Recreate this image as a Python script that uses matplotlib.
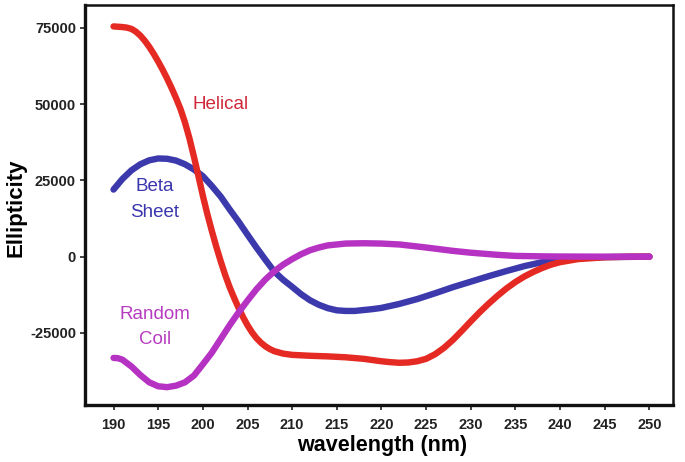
import matplotlib
matplotlib.use("Agg")
import matplotlib.pyplot as plt

helical_x = [190, 190.5, 191, 191.5, 192, 192.5, 193, 193.5, 194, 194.5, 195, 195.5, 196, 196.5, 197, 197.5, 198,
             198.5, 199, 199.5, 200, 200.5, 201, 201.5, 202, 202.5, 203, 203.5, 204, 204.5, 205, 205.5, 206, 206.5,
             207, 207.5, 208, 209, 210, 212, 214, 216, 218, 220, 221, 222, 223, 224, 225, 226, 227, 228, 229, 230,
             231, 232, 233, 234, 235, 236, 237, 238, 239, 240, 242, 245, 248, 250]
helical_y = [75500, 75400, 75300, 75100, 74700, 73800, 72500, 70800, 68800, 66500, 64000, 61300, 58400, 55300,
             52000, 48400, 44000, 38800, 32800, 26500, 20000, 14000, 8500, 3300, -1500, -6000, -10000, -13500,
             -16800, -19800, -22500, -24800, -26700, -28200, -29400, -30300, -31000, -31800, -32200, -32500,
             -32700, -33000, -33500, -34300, -34600, -34800, -34700, -34300, -33500, -32000, -29900, -27300,
             -24300, -21200, -18200, -15400, -12800, -10400, -8300, -6500, -5000, -3700, -2600, -1800, -800,
             -200, 0, 0]

beta_x = [190, 191, 192, 193, 194, 195, 196, 197, 198, 199, 200, 201, 202, 203, 204, 205, 206, 207, 208, 209,
          210, 211, 212, 213, 214, 215, 216, 217, 218, 219, 220, 222, 224, 226, 228, 230, 232, 234, 236, 238, 240,
          242, 245, 250]
beta_y = [22000, 25500, 28300, 30300, 31600, 32200, 32100, 31500, 30300, 28600, 26400, 23200, 19700, 15500,
          11500, 7200, 3000, -1000, -4900, -7600, -9900, -12300, -14300, -15800, -16900, -17600, -17800, -17800,
          -17500, -17200, -16800, -15500, -13900, -12000, -10000, -8200, -6400, -4700, -3100, -1800, -1000, -500,
          -150, 0]

coil_x = [190, 190.5, 191, 192, 193, 194, 195, 196, 197, 198, 199, 200, 201, 202, 203, 204, 205, 206, 207, 208,
          209, 210, 211, 212, 213, 214, 216, 218, 220, 222, 225, 228, 230, 233, 235, 238, 240, 245, 250]
coil_y = [-33200, -33300, -33800, -36000, -38800, -41200, -42500, -42800, -42300, -41200, -39000, -35300, -31500,
          -27000, -22500, -18300, -14400, -10700, -7500, -4800, -2600, -800, 800, 2100, 3000, 3700, 4300, 4400,
          4300, 4000, 3000, 1900, 1300, 600, 250, 100, 50, 0, 0]

x_ticks = [190, 195, 200, 205, 210, 215, 220, 225, 230, 235, 240, 245, 250]
y_ticks = [-25000, 0, 25000, 50000, 75000]

plt.rcParams['font.family'] = ['Liberation Sans', 'DejaVu Sans']

fig = plt.figure(figsize=(6.85, 4.62), dpi=100)
ax = fig.add_axes([0.124, 0.123, 0.858, 0.866])

red = '#e42a22'
blue = '#3c39ad'
purple = '#b532c2'

kw = dict(lw=4.6, solid_capstyle='round', solid_joinstyle='round')
ax.plot(helical_x, helical_y, color=red, zorder=3, **kw)
ax.plot(coil_x, coil_y, color=purple, zorder=4, **kw)
ax.plot(beta_x, beta_y, color=blue, zorder=2, **kw)

ax.text(202.0, 49800, 'Helical', color='#d0283a', fontsize=13.5, ha='center', va='center')
ax.text(194.6, 18800, 'Beta\nSheet', color='#3a36ad', fontsize=13.5, ha='center', va='center', linespacing=1.65)
ax.text(194.6, -23000, 'Random\nCoil', color='#b63bc0', fontsize=13.5, ha='center', va='center', linespacing=1.65)

ax.set_xlim(186.8, 252.6)
ax.set_ylim(-48700, 82500)
ax.set_xticks(x_ticks)
ax.set_yticks(y_ticks)
ax.set_xticklabels([str(v) for v in x_ticks], fontweight='bold', fontsize=10.5)
ax.set_yticklabels([str(v) for v in y_ticks], fontweight='bold', fontsize=10.5)
ax.tick_params(axis='both', direction='out', length=3.5, width=1.2, colors='#222222')
ax.tick_params(axis='y', pad=3)
ax.tick_params(axis='x', pad=6)

for s in ['left', 'bottom']:
    ax.spines[s].set_linewidth(2.4)
for s in ['top', 'right']:
    ax.spines[s].set_linewidth(1.8)
for s in ax.spines.values():
    s.set_color('#111111')

ax.set_xlabel('wavelength (nm)', fontsize=15.5, fontweight='bold')
ax.set_ylabel('Ellipticity', fontsize=16, fontweight='bold')
ax.yaxis.set_label_coords(-0.099, 0.4925)
ax.xaxis.set_label_coords(0.505, -0.075)
ax.xaxis.label.set_va('top')

fig.savefig('out.png', dpi=100)
